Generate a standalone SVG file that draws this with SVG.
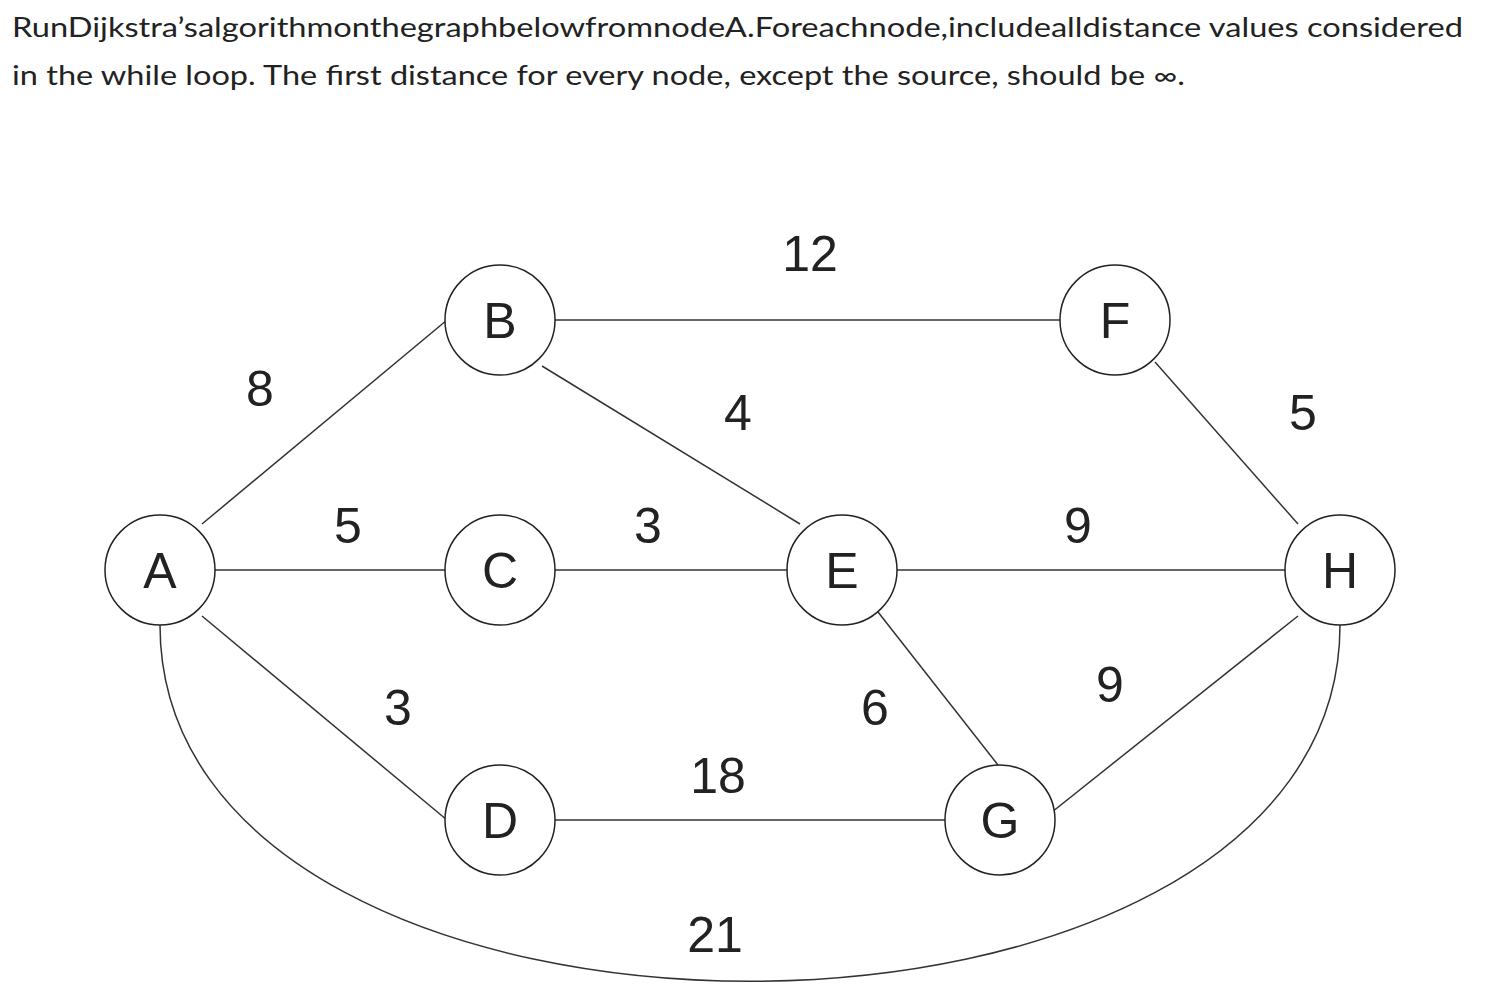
<svg xmlns="http://www.w3.org/2000/svg" width="1490" height="1004" viewBox="0 0 1490 1004">
<style>
.hdr{font-family:Lato,"Open Sans",sans-serif;font-size:26px;fill:#222}
.n circle{fill:#fff;stroke:#222;stroke-width:1.5}
.n text{font-family:"Liberation Sans",Arial,sans-serif;font-size:50px;fill:#222;text-anchor:middle}
.e{stroke:#333;stroke-width:1.5;fill:none}
.w{font-family:"Liberation Sans",Arial,sans-serif;font-size:50px;fill:#222;text-anchor:middle}
</style>
<rect width="1490" height="1004" fill="#fff"/>
<text class="hdr" x="12" y="37" textLength="1451" lengthAdjust="spacingAndGlyphs">RunDijkstra’salgorithmonthegraphbelowfromnodeA.Foreachnode,includealldistance values considered</text>
<text class="hdr" x="12" y="85" textLength="1173" lengthAdjust="spacingAndGlyphs">in the while loop. The first distance for every node, except the source, should be ∞.</text>
<g id="edges">
<line class="e" x1="202" y1="524" x2="447" y2="320"/>
<line class="e" x1="215" y1="570" x2="445" y2="570"/>
<line class="e" x1="202" y1="616" x2="447" y2="820"/>
<line class="e" x1="555" y1="320" x2="1060" y2="320"/>
<line class="e" x1="542" y1="366" x2="800" y2="524"/>
<line class="e" x1="555" y1="570" x2="787" y2="570"/>
<line class="e" x1="897" y1="570" x2="1285" y2="570"/>
<line class="e" x1="878" y1="612" x2="998" y2="765"/>
<line class="e" x1="555" y1="820" x2="945" y2="820"/>
<line class="e" x1="1042" y1="820" x2="1298" y2="616"/>
<line class="e" x1="1155" y1="362" x2="1298" y2="524"/>
<path class="e" d="M160,625 C160,1100 1340,1100 1340,625"/>
</g>
<g id="labels">
<text class="w" x="810" y="271">12</text>
<text class="w" x="260" y="406">8</text>
<text class="w" x="738" y="430">4</text>
<text class="w" x="1303" y="430">5</text>
<text class="w" x="348" y="543">5</text>
<text class="w" x="648" y="543">3</text>
<text class="w" x="1078" y="543">9</text>
<text class="w" x="398" y="725">3</text>
<text class="w" x="875" y="725">6</text>
<text class="w" x="1110" y="702">9</text>
<text class="w" x="718" y="793">18</text>
<text class="w" x="715" y="952">21</text>
</g>
<g id="A" class="n"><circle cx="160" cy="570" r="55"/><text x="160" y="588">A</text></g>
<g id="B" class="n"><circle cx="500" cy="320" r="55"/><text x="500" y="338">B</text></g>
<g id="C" class="n"><circle cx="500" cy="570" r="55"/><text x="500" y="588">C</text></g>
<g id="D" class="n"><circle cx="500" cy="820" r="55"/><text x="500" y="838">D</text></g>
<g id="E" class="n"><circle cx="842" cy="570" r="55"/><text x="842" y="588">E</text></g>
<g id="F" class="n"><circle cx="1115" cy="320" r="55"/><text x="1115" y="338">F</text></g>
<g id="G" class="n"><circle cx="1000" cy="820" r="55"/><text x="1000" y="838">G</text></g>
<g id="H" class="n"><circle cx="1340" cy="570" r="55"/><text x="1340" y="588">H</text></g>
</svg>
